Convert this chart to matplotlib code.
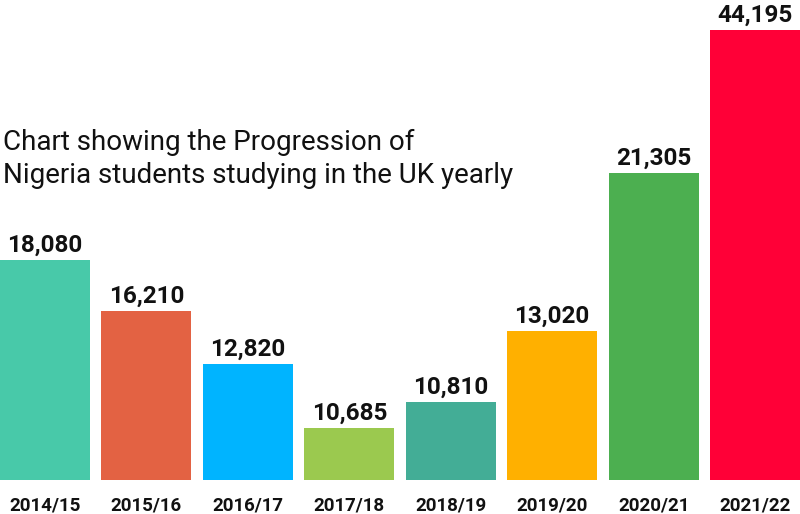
import matplotlib
matplotlib.use("Agg")
import matplotlib.pyplot as plt

years = ["2014/15", "2015/16", "2016/17", "2017/18", "2018/19", "2019/20", "2020/21", "2021/22"]
students = [18080, 16210, 12820, 10685, 10810, 13020, 21305, 44195]
# the infographic does not draw bars to scale, so the drawn heights are read off separately
shown_heights = [220, 169, 116, 52, 78, 149, 307, 450]
colors = ["#48C9A9", "#E36243", "#00B4FF", "#9BC94F", "#43AD96", "#FFB000", "#4CAF50", "#FF0037"]

title = "Chart showing the Progression of\nNigeria students studying in the UK yearly"

fig = plt.figure(figsize=(8, 5.14), dpi=100)
ax = fig.add_axes([0, 34 / 514, 1, 480 / 514])

bar_w = 0.887
x = list(range(len(years)))
bars = ax.bar(x, shown_heights, width=bar_w, color=colors)

for b, v in zip(bars, students):
    ax.annotate(f"{v:,}", (b.get_x() + b.get_width() / 2, b.get_height()),
                xytext=(0, 6), textcoords="offset points", ha="center", va="baseline",
                fontsize=17.5, fontweight="bold", family="Roboto", color="#111111")

ax.set_xlim(-bar_w / 2, len(years) - 1 + bar_w / 2)
ax.set_ylim(0, 480)
ax.set_xticks(x)
ax.set_xticklabels(years, fontsize=13.5, fontweight="bold", family="Roboto", color="#111111")
ax.tick_params(axis="x", length=0, pad=12)
ax.set_yticks([])
for s in ax.spines.values():
    s.set_visible(False)

fig.text(3 / 800, 1 - 183 / 514, title, ha="left", va="baseline", fontsize=20,
         family="Roboto", color="#111111", linespacing=1.3)

fig.savefig("out.png", dpi=100)
